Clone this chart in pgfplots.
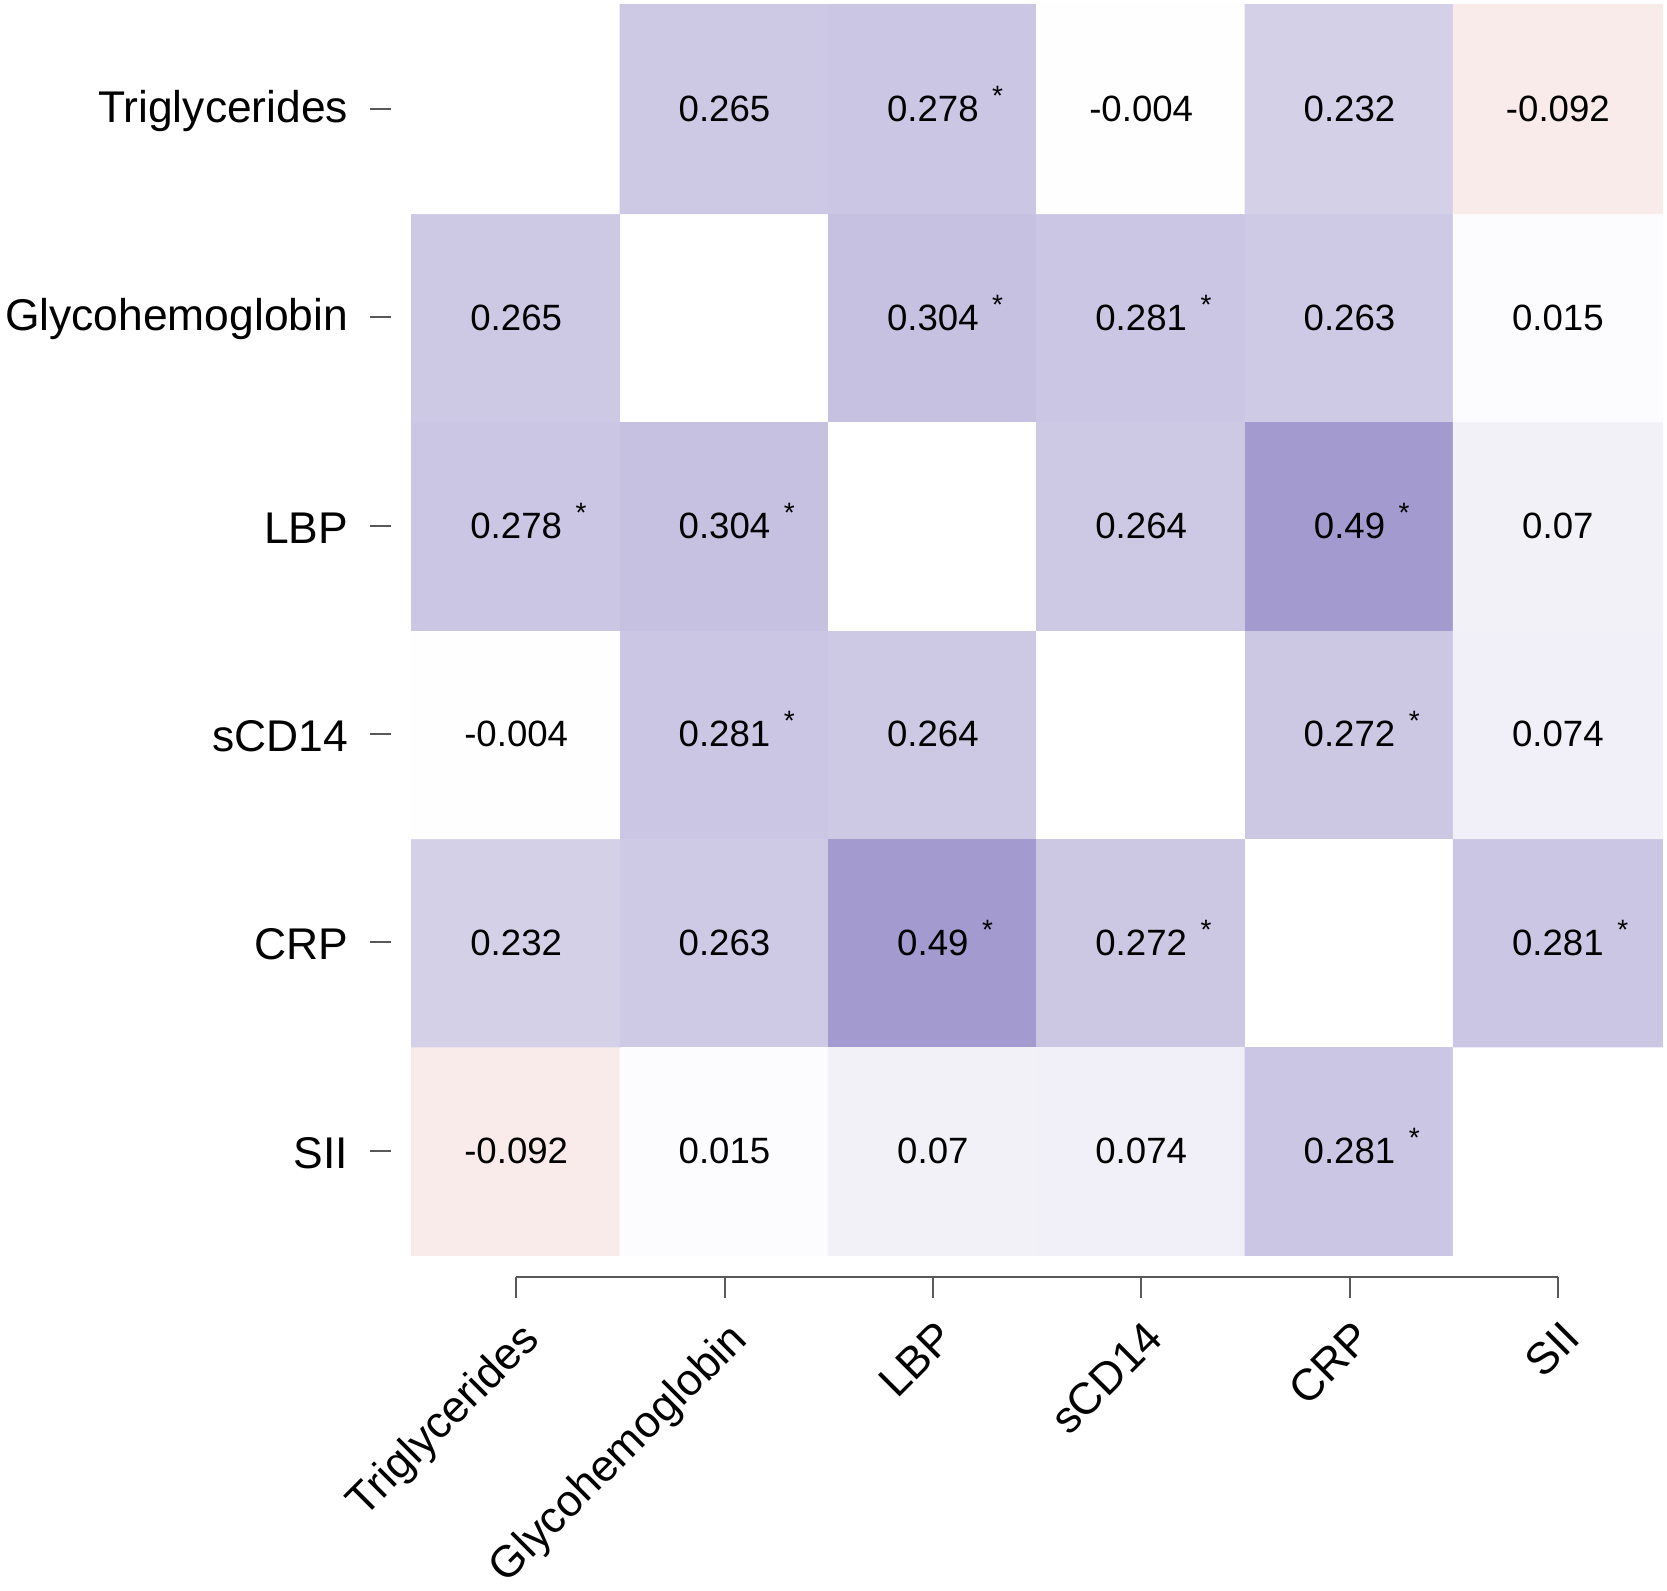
\documentclass[border=0pt]{standalone}
\usepackage{pgfplots}
\pgfplotsset{compat=1.18}
\usepackage{fontspec}
\setmainfont{Liberation Sans}
\newcommand{\s}{\rlap{\hspace{3.4pt}\smash{\raisebox{4pt}{\fontsize{7}{8}\selectfont *}}}}
\pgfplotsset{colormap={corr}{rgb255=(179,38,27) rgb255=(255,255,255) rgb255=(67,51,157)}}
\begin{document}
\begin{tikzpicture}
\begin{axis}[
  x=52.08pt, y=52.08pt,
  xmin=-0.601, xmax=5.5, ymin=-0.606, ymax=5.5,
  clip=false,
  separate axis lines,
  axis x line*=bottom, axis y line*=left,
  x axis line style={draw=none}, y axis line style={draw=none},
  tick align=outside, major tick length=5.25pt,
  tick style={black!65, line width=0.5pt},
  xtick={0,1,2,3,4,5}, ytick={0,1,2,3,4,5},
  xticklabels={Triglycerides,Glycohemoglobin,LBP,sCD14,CRP,SII},
  yticklabels={SII,CRP,sCD14,LBP,Glycohemoglobin,Triglycerides},
  xticklabel style={xshift=0.5pt, yshift=-4.9pt, rotate=45, anchor=north east, inner sep=0pt, font=\fontsize{11.1}{13}\selectfont},
  yticklabel style={anchor=east, inner sep=0pt, xshift=-5.25pt, yshift=-0.5pt, font=\fontsize{11.1}{13}\selectfont},
  colormap name=corr, point meta min=-1, point meta max=1,
]
\addplot[matrix plot*, mesh/cols=6, point meta=explicit] table[meta=c] {
x y c
0 0 -0.092
1 0 0.015
2 0 0.07
3 0 0.074
4 0 0.281
5 0 0
0 1 0.232
1 1 0.263
2 1 0.49
3 1 0.272
4 1 0
5 1 0.281
0 2 -0.004
1 2 0.281
2 2 0.264
3 2 0
4 2 0.272
5 2 0.074
0 3 0.278
1 3 0.304
2 3 0
3 3 0.264
4 3 0.49
5 3 0.07
0 4 0.265
1 4 0
2 4 0.304
3 4 0.281
4 4 0.263
5 4 0.015
0 5 0
1 5 0.265
2 5 0.278
3 5 -0.004
4 5 0.232
5 5 -0.092
};
\addplot[only marks, mark size=0pt, mark options={draw=none,fill=none},
  nodes near coords, point meta=explicit symbolic,
  every node near coord/.append style={anchor=center, inner sep=0pt, font=\fontsize{9.15}{11}\selectfont}]
  table[meta=lab, row sep=\\] {
x y lab \\
0 0 -0.092 \\
1 0 0.015 \\
2 0 0.07 \\
3 0 0.074 \\
4 0 0.281\s \\
0 1 0.232 \\
1 1 0.263 \\
2 1 0.49\s \\
3 1 0.272\s \\
5 1 0.281\s \\
0 2 -0.004 \\
1 2 0.281\s \\
2 2 0.264 \\
4 2 0.272\s \\
5 2 0.074 \\
0 3 0.278\s \\
1 3 0.304\s \\
3 3 0.264 \\
4 3 0.49\s \\
5 3 0.07 \\
0 4 0.265 \\
2 4 0.304\s \\
3 4 0.281\s \\
4 4 0.263 \\
5 4 0.015 \\
1 5 0.265 \\
2 5 0.278\s \\
3 5 -0.004 \\
4 5 0.232 \\
5 5 -0.092 \\
};
\draw[black!65, line width=0.5pt] (axis cs:0,-0.606) -- (axis cs:5,-0.606);
\coordinate (TL) at (axis cs:-0.5,5.5);
\coordinate (BR) at (axis cs:5.5,-0.5);
\end{axis}
\path (TL) ++(-103pt,1.25pt);
\path (BR) ++(1.25pt,-82.5pt);
\end{tikzpicture}
\end{document}
